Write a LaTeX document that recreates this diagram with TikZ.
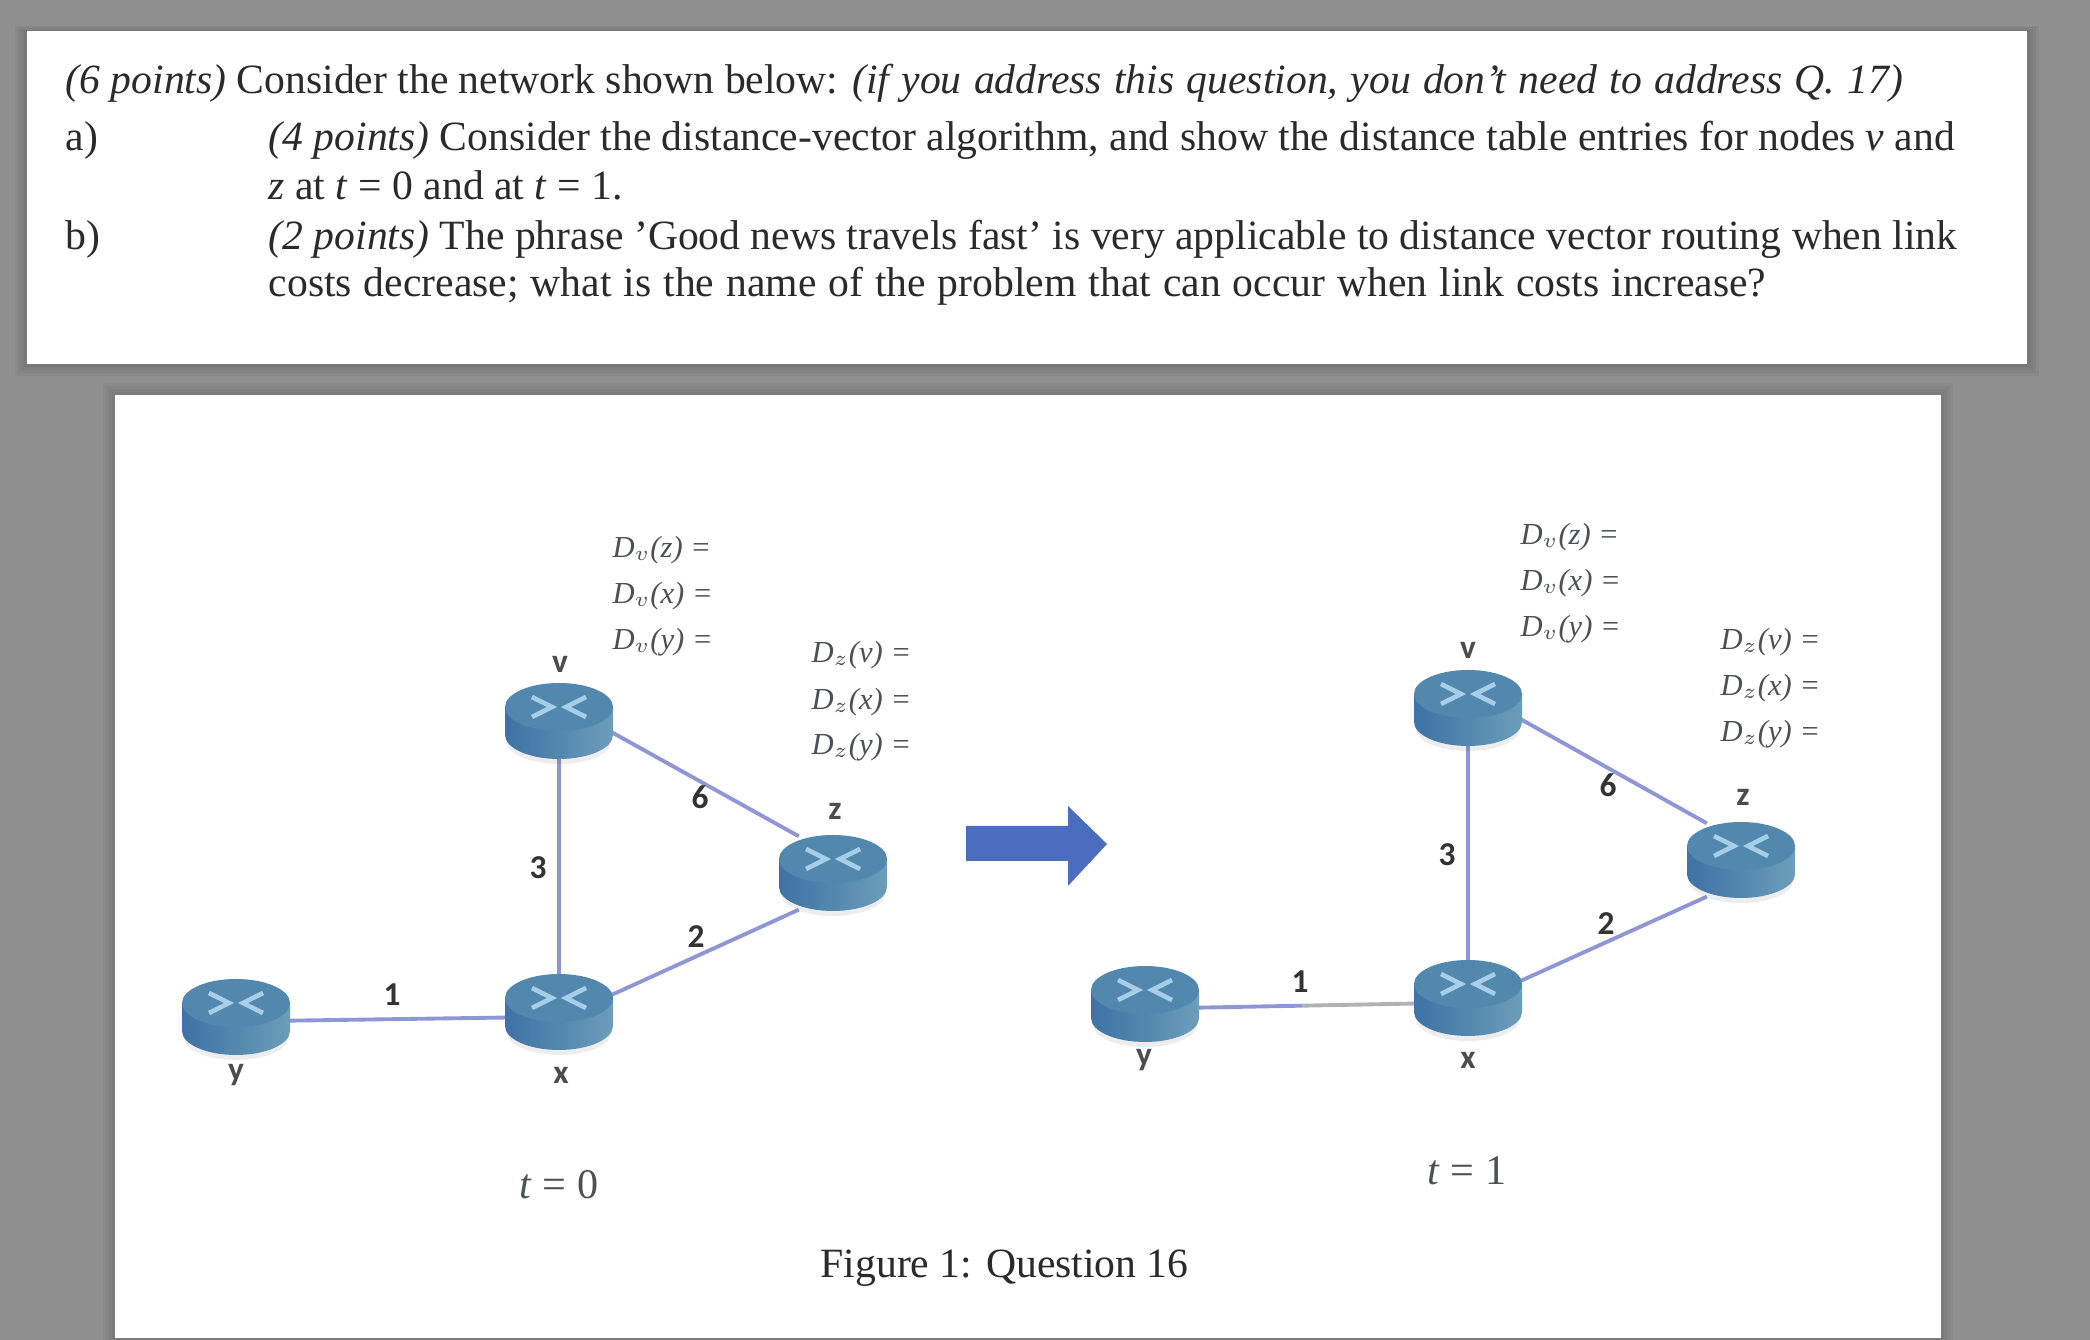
\documentclass[tikz,border=0pt]{standalone}
\usepackage{amsmath, amssymb}
\usepackage{xcolor}
\usepackage{fontspec}
\setmainfont{Liberation Serif}
\newfontfamily\labelfont{Carlito}
\usepackage{tikz}
\usetikzlibrary{calc}
\definecolor{pagegray}{HTML}{8F8F8F}
\definecolor{linkblue}{HTML}{8E97D6}
\definecolor{routertop}{HTML}{5388AE}
\definecolor{routerlow}{HTML}{3F72A6}
\definecolor{routerhigh}{HTML}{6C9DBA}
\definecolor{routermark}{HTML}{A8CDE6}
\definecolor{arrowblue}{HTML}{4A6DBF}
\definecolor{inktext}{HTML}{2A2A2A}
\definecolor{inklabel}{HTML}{4C5156}
\tikzset{
    panel/.style={fill=white},
    routernode/.style={rectangle, inner sep=0pt, minimum width=1.04cm, minimum height=0.72cm},
    link/.style={linkblue, line width=1.1pt},
    cost/.style={font=\labelfont\bfseries\fontsize{9.5}{11}\selectfont, text=black!80},
    rname/.style={font=\labelfont\bfseries\fontsize{9.5}{11}\selectfont, text=black!70},
    dist/.style={font=\itshape\fontsize{8.7}{10}\selectfont, text=inklabel, anchor=west, inner sep=0pt},
    bodytext/.style={font=\fontsize{11.85}{14}\selectfont, text=inktext, anchor=base west, inner sep=0pt},
    timetext/.style={font=\fontsize{12}{14}\selectfont, text=inklabel},
}
\begin{document}
\begin{tikzpicture}
    \useasboundingbox (0,0) rectangle (20.9,13.4);
    \fill[pagegray] (0,0) rectangle (20.9,13.4);

    % paper
    \foreach \s in {0.03,0.06,0.09,0.12} {
        \fill[black, opacity=0.04] (0.27-\s,9.76-\s) rectangle (20.27+\s,13.09+0.4*\s);
        \fill[black, opacity=0.03] (1.15-\s,0) rectangle (19.41+\s,9.45+\s);
    }
    \fill[panel] (0.27,9.76) rectangle (20.27,13.09);
    \fill[panel] (1.15,0.02) rectangle (19.41,9.45);

    % question
    \node[bodytext] (q0) at (0.65,12.46) {\textit{(6 points)} Consider the network shown below: {\itshape\spaceskip=3.5pt (if you address this question, you don't need to address Q. 17)}};
    \node[bodytext] (qa) at (0.65,11.89) {a)};
    \node[bodytext] (qb) at (0.65,10.90) {b)};
    \node[bodytext] (a1) at (2.68,11.89) {\textit{(4 points)} Consider the distance-vector algorithm, and show the distance table entries for nodes \textit{v} and};
    \node[bodytext] (a2) at (2.68,11.40) {\textit{z} at \textit{t} = 0 and at \textit{t} = 1.};
    \node[bodytext] (b1) at (2.68,10.90) {\textit{(2 points)} The phrase 'Good news travels fast' is very applicable to distance vector routing when link};
    \node[bodytext] (b2) at (2.68,10.43) {\spaceskip=3.4pt costs decrease; what is the name of the problem that can occur when link costs increase?};

    % routers t=0
    \node[routernode] (v0) at (5.59,6.19) {};
    \node[routernode] (z0) at (8.33,4.67) {};
    \node[routernode] (x0) at (5.59,3.28) {};
    \node[routernode] (y0) at (2.36,3.23) {};
    % routers t=1
    \node[routernode] (v1) at (14.68,6.32) {};
    \node[routernode] (z1) at (17.41,4.80) {};
    \node[routernode] (x1) at (14.68,3.42) {};
    \node[routernode] (y1) at (11.45,3.36) {};

    \draw[link] (v0) -- (x0);
    \draw[link] (v0.-12) -- (z0.133);
    \draw[link] (x0.18) -- (z0.227);
    \draw[link] (y0.-4) -- (x0.186);
    \draw[link] (v1) -- (x1);
    \draw[link] (v1.-12) -- (z1.133);
    \draw[link] (x1.18) -- (z1.227);
    \coordinate (m1) at ($(y1.-4)!0.48!(x1.186)$);
    \draw[link] (y1.-4) -- (m1);
    \draw[link, gray!60] (m1) -- (x1.186);

    \foreach \rname in {v0,z0,x0,y0,v1,z1,x1,y1} {
        \begin{scope}[shift={(\rname)}]
            \fill[black, opacity=0.07] (0,-0.21) ellipse (0.52 and 0.22);
            \shade[left color=routerlow, right color=routerhigh, middle color=routertop]
                (-0.54,0.14) -- (-0.54,-0.14) arc[start angle=180, end angle=360, x radius=0.54, y radius=0.24]
                -- (0.54,0.14) -- cycle;
            \fill[routertop] (0,0.14) ellipse (0.54 and 0.24);
            \draw[routermark, line width=1.3pt]
                (-0.27,0.24) -- (-0.07,0.14) -- (-0.27,0.04)
                (0.27,0.24) -- (0.07,0.14) -- (0.27,0.04);
        \end{scope}
    }

    % arrow
    \fill[arrowblue] (9.66,5.14) -- (10.68,5.14) -- (10.68,5.34) -- (11.07,4.96)
        -- (10.68,4.54) -- (10.68,4.79) -- (9.66,4.79) -- cycle;

    % costs
    \node[cost] (c3a) at (5.38,4.72) {3};
    \node[cost] (c6a) at (7.00,5.43) {6};
    \node[cost] (c2a) at (6.96,4.03) {2};
    \node[cost] (c1a) at (3.92,3.45) {1};
    \node[cost] (c3b) at (14.47,4.85) {3};
    \node[cost] (c6b) at (16.08,5.55) {6};
    \node[cost] (c2b) at (16.06,4.16) {2};
    \node[cost] (c1b) at (13.00,3.58) {1};

    % names
    \node[rname] (nv0) at (5.60,6.76) {v};
    \node[rname] (nz0) at (8.35,5.29) {z};
    \node[rname] (nx0) at (5.61,2.65) {x};
    \node[rname] (ny0) at (2.36,2.65) {y};
    \node[rname] (nv1) at (14.68,6.90) {v};
    \node[rname] (nz1) at (17.43,5.43) {z};
    \node[rname] (nx1) at (14.68,2.80) {x};
    \node[rname] (ny1) at (11.44,2.80) {y};

    % distance entries
    \node[dist] (d1) at (6.12,7.90) {D$_v$(z) =};
    \node[dist] (d2) at (6.12,7.44) {D$_v$(x) =};
    \node[dist] (d3) at (6.12,6.98) {D$_v$(y) =};
    \node[dist] (d4) at (8.11,6.85) {D$_z$(v) =};
    \node[dist] (d5) at (8.11,6.38) {D$_z$(x) =};
    \node[dist] (d6) at (8.11,5.93) {D$_z$(y) =};
    \node[dist] (d7) at (15.20,8.03) {D$_v$(z) =};
    \node[dist] (d8) at (15.20,7.57) {D$_v$(x) =};
    \node[dist] (d9) at (15.20,7.11) {D$_v$(y) =};
    \node[dist] (d10) at (17.20,6.98) {D$_z$(v) =};
    \node[dist] (d11) at (17.20,6.52) {D$_z$(x) =};
    \node[dist] (d12) at (17.20,6.06) {D$_z$(y) =};

    % times
    \node[timetext] (t0) at (5.59,1.55) {\textit{t} = 0};
    \node[timetext] (t1) at (14.67,1.69) {\textit{t} = 1};
    \node[bodytext] (cap) at (8.20,0.62) {Figure 1: Question 16};
\end{tikzpicture}
\end{document}
